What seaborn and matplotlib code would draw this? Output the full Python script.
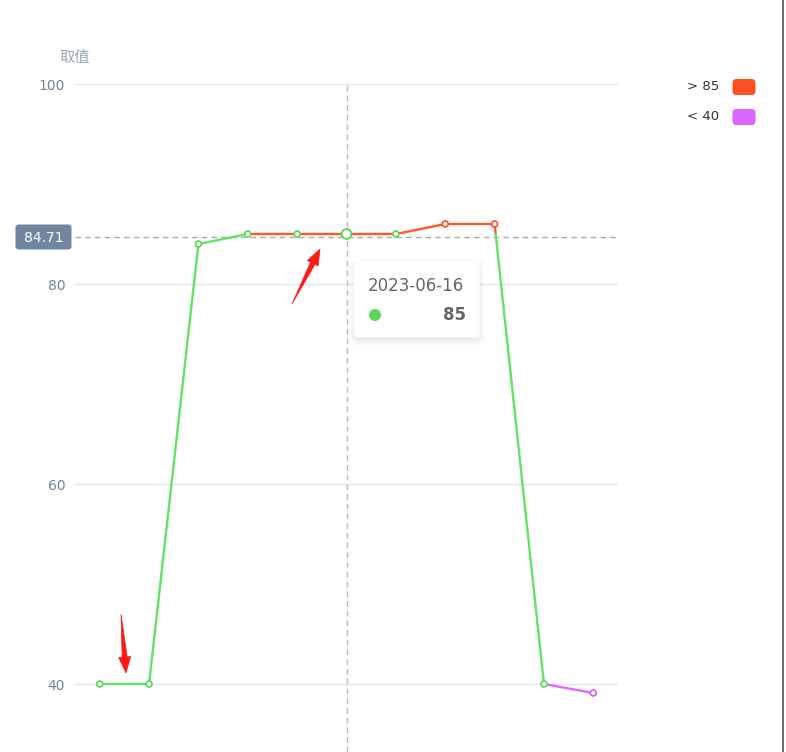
import numpy as np
import pandas as pd
import matplotlib
matplotlib.use("Agg")
import matplotlib.pyplot as plt
import seaborn as sns
from matplotlib.patches import FancyBboxPatch, Circle, Polygon

# data
dates = ["2023-06-11", "2023-06-12", "2023-06-13", "2023-06-14", "2023-06-15", "2023-06-16",
         "2023-06-17", "2023-06-18", "2023-06-19", "2023-06-20", "2023-06-21"]
values = [40, 40, 84, 85, 85, 85, 85, 86, 86, 40, 39.1]
high_limit = 85
low_limit = 40
pointer_value = 84.71
hover_idx = 5
yticks = [40, 60, 80, 100]
piece_labels = ["> 85", "< 40"]

c_high = "#ff5a2c"
c_mid = "#64e264"
c_low = "#e066ff"
c_high_mk = "#ff4f24"
c_mid_mk = "#5ad65a"
c_low_mk = "#d65cf5"

sns.set_style("white")
plt.rcParams['font.family'] = ['DejaVu Sans', 'Noto Sans CJK SC']

W, H = 786, 752
fig = plt.figure(figsize=(W / 100, H / 100), dpi=100)
ax = fig.add_axes([75 / W, 0, (618 - 75) / W, (H - 84) / H])
ax.set_xlim(-0.5, len(values) - 0.5)
ax.set_ylim(100 - (H - 84) / 10, 100)

# grid
for t in yticks:
    ax.axhline(t, color="#e0e6f1", lw=1, zorder=0)
ax.set_yticks(yticks)
ax.set_yticklabels([str(t) for t in yticks], color="#73849a", fontsize=10)
ax.tick_params(axis="y", length=0, pad=7)
ax.set_xticks([])
for s in ax.spines.values():
    s.set_visible(False)

# split line into pieces coloured by visual map
def piece_color(mid):
    if mid >= high_limit:
        return "high"
    if mid < low_limit:
        return "low"
    return "mid"

rows = []
pid = 0
for i in range(len(values) - 1):
    x0, x1 = i, i + 1
    v0, v1 = values[i], values[i + 1]
    cuts = [0.0, 1.0]
    for lim in (high_limit, low_limit):
        if (v0 - lim) * (v1 - lim) < 0:
            cuts.append((lim - v0) / (v1 - v0))
    cuts = sorted(cuts)
    for a, b in zip(cuts[:-1], cuts[1:]):
        va = v0 + a * (v1 - v0)
        vb = v0 + b * (v1 - v0)
        key = piece_color((va + vb) / 2)
        rows.append({"x": x0 + a, "y": va, "piece": pid, "key": key})
        rows.append({"x": x0 + b, "y": vb, "piece": pid, "key": key})
        pid += 1
seg = pd.DataFrame(rows)
pal = {p: {"high": c_high, "mid": c_mid, "low": c_low}[k]
       for p, k in seg.groupby("piece")["key"].first().items()}
sns.lineplot(data=seg, x="x", y="y", hue="piece", units="piece", estimator=None,
             palette=pal, lw=1.7, legend=False, ax=ax, zorder=3)

# axis pointer lines
ax.axvline(hover_idx, color="#bbbbbb", ls=(0, (4, 3)), lw=1, zorder=2)
ax.axhline(pointer_value, color="#aaaaaa", ls=(0, (4, 3)), lw=1, zorder=2)

# markers
pts = pd.DataFrame({"x": np.arange(len(values)), "y": values})
pts["key"] = ["high" if v > high_limit else ("low" if v < low_limit else "mid") for v in values]
pts["s"] = [70 if i == hover_idx else 30 for i in range(len(values))]
mk_pal = {"high": c_high_mk, "mid": c_mid_mk, "low": c_low_mk}
sns.scatterplot(data=pts, x="x", y="y", hue="key", palette=mk_pal, size="s",
                sizes=(30, 70), linewidth=0, legend=False, ax=ax, zorder=4)
pts["s2"] = [32 if i == hover_idx else 9 for i in range(len(values))]
sns.scatterplot(data=pts, x="x", y="y", color="white", size="s2", sizes=(9, 32),
                linewidth=0, legend=False, ax=ax, zorder=5)
ax.set_xlabel("")
ax.set_ylabel("")

# overlay in pixel coordinates for decorations
ov = fig.add_axes([0, 0, 1, 1], facecolor="none")
ov.set_xlim(0, W)
ov.set_ylim(H, 0)
ov.axis("off")

ov.text(75, 57, "取值", ha="center", va="center", fontsize=11, color="#9aa5b5",
        family=["Noto Sans CJK SC", "DejaVu Sans"])

# y pointer label
ov.add_patch(FancyBboxPatch((17, 226), 53, 22, boxstyle="round,pad=1.5,rounding_size=3",
                            fc="#70879f", ec="none"))
ov.text(43.5, 237.5, f"{pointer_value:.2f}", ha="center", va="center", fontsize=10, color="white")

# tooltip
for k, a in enumerate([0.05, 0.035, 0.025, 0.018, 0.012]):
    g = 2 + 2 * k
    ov.add_patch(FancyBboxPatch((359 - g, 266 - g + 3), 116 + 2 * g, 67 + 2 * g,
                                boxstyle="round,pad=0,rounding_size=7", fc="black", ec="none", alpha=a))
ov.add_patch(FancyBboxPatch((359, 266), 116, 67, boxstyle="round,pad=4,rounding_size=4",
                            fc="white", ec="white", lw=1))
ov.text(368, 286, dates[hover_idx], ha="left", va="center", fontsize=12, color="#666666")
ov.add_patch(Circle((375, 315), 6, fc=c_mid_mk, ec="none"))
ov.text(466, 315.5, f"{values[hover_idx]:g}", ha="right", va="center", fontsize=12,
        color="#666666", fontweight="bold")

# visual map legend
for lab, col, yy in zip(piece_labels, [c_high_mk, "#dd66ff"], [87, 117]):
    ov.text(719, yy, lab, ha="right", va="center", fontsize=9.5, color="#333333")
    ov.add_patch(FancyBboxPatch((733, yy - 7.5), 22, 15, boxstyle="round,pad=0.5,rounding_size=4",
                                fc=col, ec="none"))


# red arrows drawn on the screenshot: thin tail widening to a head
def red_arrow(tail, tip, shaft_w=5, head_w=12, head_len=16):
    t = np.array(tail, float)
    p = np.array(tip, float)
    d = (p - t) / np.linalg.norm(p - t)
    n = np.array([-d[1], d[0]])
    base = p - d * head_len
    poly = [t, base + n * shaft_w / 2, base + n * head_w / 2, p,
            base - n * head_w / 2, base - n * shaft_w / 2]
    ov.add_patch(Polygon(poly, closed=True, fc="#ff1a1a", ec="#ff1a1a", lw=0.5))


red_arrow((121, 614), (126, 673))
red_arrow((292, 304), (320, 249))

# screenshot border on the right
ov.plot([782.5, 782.5], [0, H], color="#555555", lw=1.2)

fig.savefig("out.png", dpi=100)
